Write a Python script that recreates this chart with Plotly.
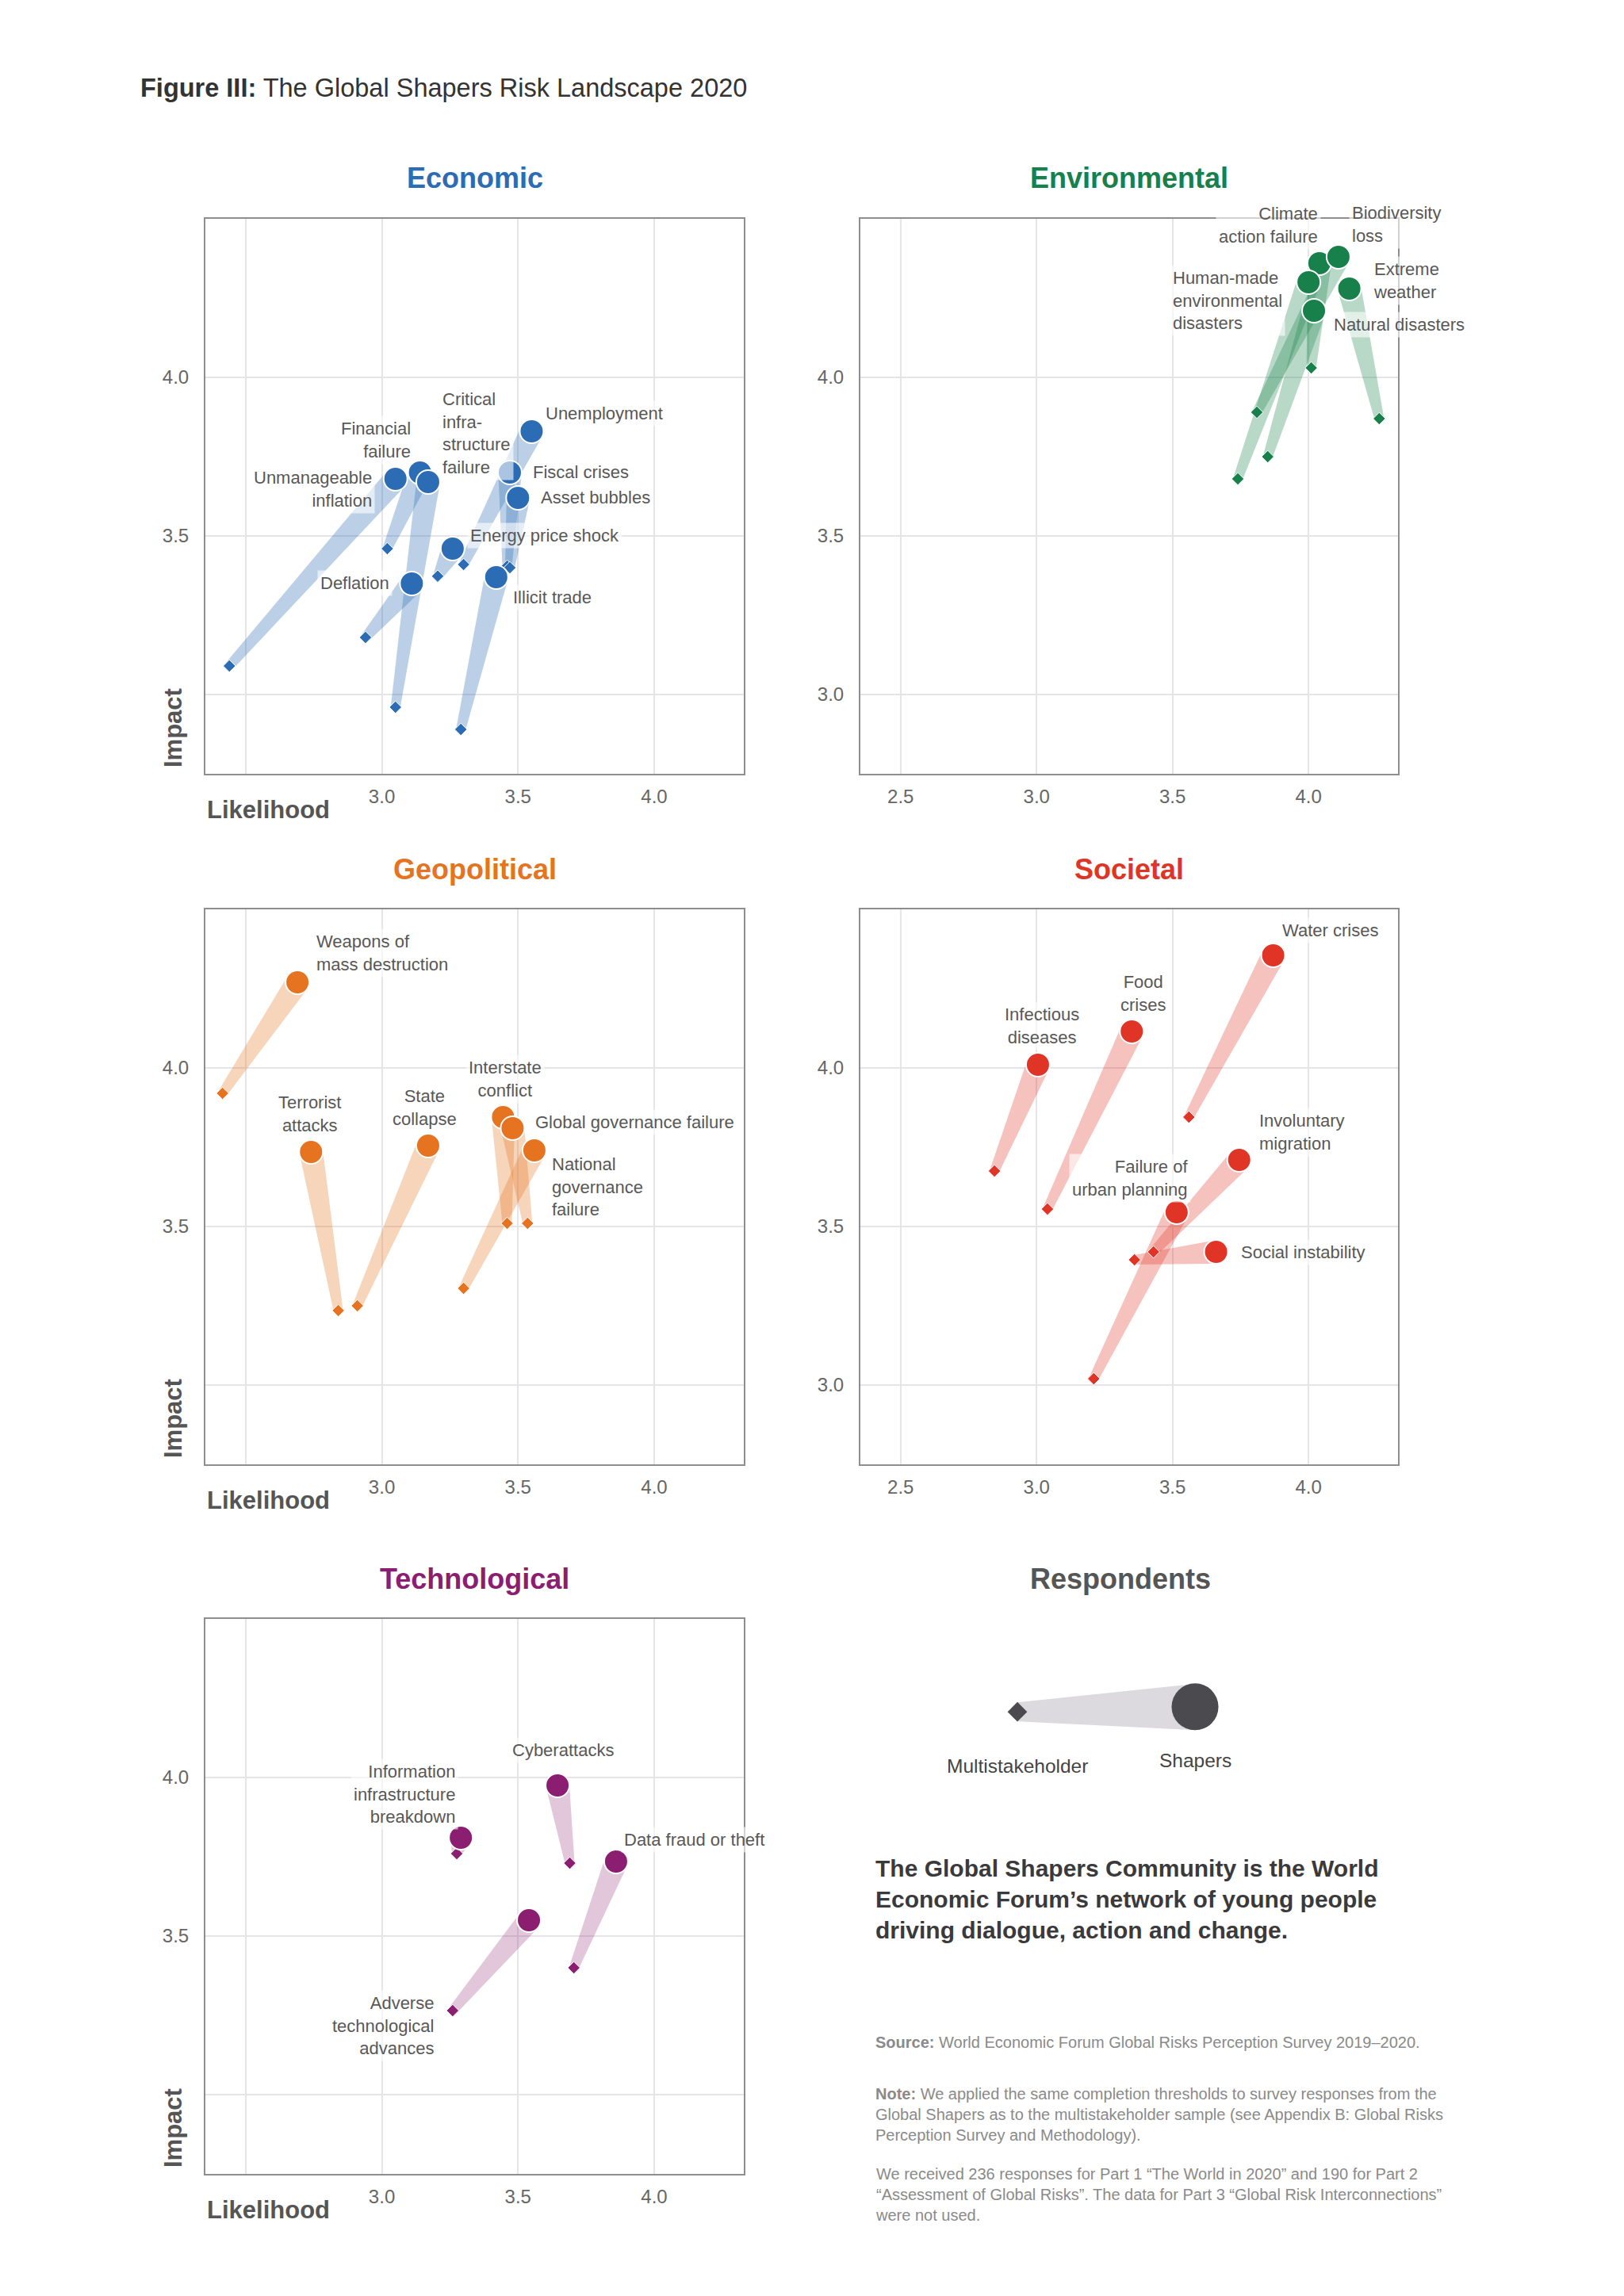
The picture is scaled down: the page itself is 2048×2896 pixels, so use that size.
import math
import plotly.graph_objects as go

# ---------------- DATA (Likelihood = x, Impact = y) ----------------
econ_risks = ["Unmanageable inflation", "Financial failure", "Critical infrastructure failure",
              "Unemployment", "Fiscal crises", "Asset bubbles", "Energy price shock",
              "Deflation", "Illicit trade"]
econ_labels = ["Unmanageable<br>inflation", "Financial<br>failure", "Critical<br>infra-<br>structure<br>failure",
               "Unemployment", "Fiscal crises", "Asset bubbles", "Energy price shock",
               "Deflation", "Illicit trade"]
econ_shapers_likelihood = [3.05, 3.14, 3.17, 3.55, 3.47, 3.50, 3.26, 3.11, 3.42]
econ_shapers_impact = [3.68, 3.70, 3.67, 3.83, 3.70, 3.62, 3.46, 3.35, 3.37]
econ_multi_likelihood = [2.44, 3.02, 3.05, 3.30, 3.46, 3.47, 3.205, 2.94, 3.29]
econ_multi_impact = [3.09, 3.46, 2.96, 3.41, 3.405, 3.40, 3.373, 3.18, 2.89]

env_risks = ["Climate action failure", "Biodiversity loss", "Human-made environmental disasters",
             "Extreme weather", "Natural disasters"]
env_labels = ["Climate<br>action failure", "Biodiversity<br>loss", "Human-made<br>environmental<br>disasters",
              "Extreme<br>weather", "Natural disasters"]
env_shapers_likelihood = [4.04, 4.11, 4.00, 4.15, 4.02]
env_shapers_impact = [4.36, 4.38, 4.30, 4.28, 4.21]
env_multi_likelihood = [4.01, 3.81, 3.74, 4.26, 3.85]
env_multi_impact = [4.03, 3.89, 3.68, 3.87, 3.75]

geo_risks = ["Weapons of mass destruction", "Terrorist attacks", "State collapse",
             "Interstate conflict", "Global governance failure", "National governance failure"]
geo_labels = ["Weapons of<br>mass destruction", "Terrorist<br>attacks", "State<br>collapse",
              "Interstate<br>conflict", "Global governance failure", "National<br>governance<br>failure"]
geo_shapers_likelihood = [2.69, 2.74, 3.17, 3.445, 3.48, 3.56]
geo_shapers_impact = [4.27, 3.735, 3.755, 3.845, 3.81, 3.74]
geo_multi_likelihood = [2.415, 2.84, 2.91, 3.46, 3.535, 3.30]
geo_multi_impact = [3.92, 3.235, 3.25, 3.51, 3.51, 3.305]

soc_risks = ["Water crises", "Food crises", "Infectious diseases", "Involuntary migration",
             "Failure of urban planning", "Social instability"]
soc_labels = ["Water crises", "Food<br>crises", "Infectious<br>diseases", "Involuntary<br>migration",
              "Failure of<br>urban planning", "Social instability"]
soc_shapers_likelihood = [3.87, 3.35, 3.005, 3.745, 3.515, 3.66]
soc_shapers_impact = [4.355, 4.115, 4.01, 3.71, 3.545, 3.42]
soc_multi_likelihood = [3.56, 3.04, 2.845, 3.43, 3.21, 3.36]
soc_multi_impact = [3.845, 3.555, 3.675, 3.42, 3.02, 3.395]

tech_risks = ["Cyberattacks", "Information infrastructure breakdown", "Data fraud or theft",
              "Adverse technological advances"]
tech_labels = ["Cyberattacks", "Information<br>infrastructure<br>breakdown", "Data fraud or theft",
               "Adverse<br>technological<br>advances"]
tech_shapers_likelihood = [3.645, 3.29, 3.86, 3.54]
tech_shapers_impact = [3.975, 3.81, 3.735, 3.55]
tech_multi_likelihood = [3.69, 3.275, 3.705, 3.26]
tech_multi_impact = [3.73, 3.76, 3.40, 3.265]

x_tick_values = [2.5, 3.0, 3.5, 4.0]
y_tick_values = [3.0, 3.5, 4.0]

legend_names = ["Multistakeholder", "Shapers"]
legend_x = [0.0, 1.0]
legend_y = [-0.07, 0.07]

# ---------------- STYLE / LAYOUT ----------------
W, H = 2048, 2896
XR = [2.352, 4.329]
YR = [2.75, 4.50]
COLS = [(259, 938), (1085, 1763)]
ROWS = [(276, 976), (1147, 1847), (2042, 2742)]
FONT = "Liberation Sans, Arial, Helvetica, sans-serif"
GRID = "#E4E4E9"
FRAME = "#8D8D92"
TICK = "#666666"
LABEL = "#585858"
CIRCLE_SIZE = 30
DIAMOND_SIZE = 12
BAND_W0 = 12

# label placement: (xanchor, xshift, yshift, align, reference)  reference 's' shapers / 'm' multistakeholder
econ_pos = [("right", -26, -13, "right", "s"), ("right", -8, 41, "right", "s"), ("left", 14, 61, "left", "s"),
            ("left", 14, 22, "left", "s"), ("left", 25, 0, "left", "s"), ("left", 25, 0, "left", "s"),
            ("left", 18, 16, "left", "s"), ("right", -24, 0, "right", "s"), ("left", 17, -26, "left", "s")]
env_pos = [("right", 2, 48, "right", "s"), ("left", 13, 41, "left", "s"), ("right", -29, -23, "left", "s"),
           ("left", 26, 10, "left", "s"), ("left", 21, -18, "left", "s")]
geo_pos = [("left", 20, 37, "left", "s"), ("center", -2, 48, "center", "s"), ("center", -4, 48, "center", "s"),
           ("center", 3, 48, "center", "s"), ("left", 25, 8, "left", "s"), ("left", 18, -46, "left", "s")]
soc_pos = [("left", 7, 32, "left", "s"), ("center", 14, 48, "center", "s"), ("center", 5, 49, "center", "s"),
           ("left", 21, 35, "left", "s"), ("right", 18, 43, "right", "s"), ("left", 27, 0, "left", "s")]
tech_pos = [("center", 7, 45, "center", "s"), ("right", -3, 55, "right", "s"), ("left", 6, 28, "left", "s"),
            ("right", -20, -19, "right", "m")]

panels = [
    dict(title="Economic", color="#2C6CB4", band="rgba(44,108,180,0.32)", col=0, row=0,
         labels=econ_labels, names=econ_risks, sx=econ_shapers_likelihood, sy=econ_shapers_impact,
         mx=econ_multi_likelihood, my=econ_multi_impact, pos=econ_pos),
    dict(title="Environmental", color="#18804A", band="rgba(24,128,74,0.30)", col=1, row=0,
         labels=env_labels, names=env_risks, sx=env_shapers_likelihood, sy=env_shapers_impact,
         mx=env_multi_likelihood, my=env_multi_impact, pos=env_pos),
    dict(title="Geopolitical", color="#E5731F", band="rgba(229,115,31,0.30)", col=0, row=1,
         labels=geo_labels, names=geo_risks, sx=geo_shapers_likelihood, sy=geo_shapers_impact,
         mx=geo_multi_likelihood, my=geo_multi_impact, pos=geo_pos),
    dict(title="Societal", color="#E03427", band="rgba(224,52,39,0.30)", col=1, row=1,
         labels=soc_labels, names=soc_risks, sx=soc_shapers_likelihood, sy=soc_shapers_impact,
         mx=soc_multi_likelihood, my=soc_multi_impact, pos=soc_pos),
    dict(title="Technological", color="#8B1E70", band="rgba(139,30,112,0.25)", col=0, row=2,
         labels=tech_labels, names=tech_risks, sx=tech_shapers_likelihood, sy=tech_shapers_impact,
         mx=tech_multi_likelihood, my=tech_multi_impact, pos=tech_pos),
]


def dom_x(a, b):
    return [a / W, b / W]


def dom_y(top, bottom):
    return [1 - bottom / H, 1 - top / H]


def band(x0, y0, x1, y1, w0, r1, sx, sy):
    X0, Y0, X1, Y1 = x0 * sx, y0 * sy, x1 * sx, y1 * sy
    dx, dy = X1 - X0, Y1 - Y0
    L = math.hypot(dx, dy) or 1.0
    ux, uy = dx / L, dy / L
    nx, ny = -uy, ux
    pts = [(X0 + nx * w0 / 2, Y0 + ny * w0 / 2)]
    for k in range(21):
        a = math.pi / 2 - math.pi * k / 20
        pts.append((X1 + r1 * (math.cos(a) * ux + math.sin(a) * nx),
                    Y1 + r1 * (math.cos(a) * uy + math.sin(a) * ny)))
    pts.append((X0 - nx * w0 / 2, Y0 - ny * w0 / 2))
    pts.append(pts[0])
    return [p[0] / sx for p in pts], [p[1] / sy for p in pts]


fig = go.Figure()
annotations = []
layout_axes = {}

for i, p in enumerate(panels, start=1):
    xa_name = "xaxis" if i == 1 else f"xaxis{i}"
    ya_name = "yaxis" if i == 1 else f"yaxis{i}"
    xref = "x" if i == 1 else f"x{i}"
    yref = "y" if i == 1 else f"y{i}"
    c0, c1 = COLS[p["col"]]
    r0, r1 = ROWS[p["row"]]
    left_col = p["col"] == 0
    xt = ["" if (left_col and v == 2.5) else f"{v:.1f}" for v in x_tick_values]
    yt = ["" if (left_col and v == 3.0) else f"{v:.1f}" for v in y_tick_values]
    layout_axes[xa_name] = dict(domain=dom_x(c0, c1), range=XR, anchor=yref,
                                tickvals=x_tick_values, ticktext=xt, showgrid=True, gridcolor=GRID,
                                gridwidth=1.5, zeroline=False, showline=True, linecolor=FRAME,
                                linewidth=2, mirror=True, ticks="", ticklabelstandoff=6,
                                tickfont=dict(size=24, color=TICK, family=FONT), fixedrange=True)
    layout_axes[ya_name] = dict(domain=dom_y(r0, r1), range=YR, anchor=xref,
                                tickvals=y_tick_values, ticktext=yt, showgrid=True, gridcolor=GRID,
                                gridwidth=1.5, zeroline=False, showline=True, linecolor=FRAME,
                                linewidth=2, mirror=True, ticks="", ticklabelstandoff=14,
                                tickfont=dict(size=24, color=TICK, family=FONT), fixedrange=True)

    px_x = (c1 - c0) / (XR[1] - XR[0])
    px_y = (r1 - r0) / (YR[1] - YR[0])

    for k in range(len(p["names"])):
        bx, by = band(p["mx"][k], p["my"][k], p["sx"][k], p["sy"][k], BAND_W0, CIRCLE_SIZE / 2, px_x, px_y)
        fig.add_trace(go.Scatter(x=bx, y=by, mode="lines", fill="toself", fillcolor=p["band"],
                                 line=dict(width=0), hoverinfo="skip", xaxis=xref, yaxis=yref,
                                 showlegend=False))
    fig.add_trace(go.Scatter(x=p["mx"], y=p["my"], mode="markers", text=p["names"],
                             marker=dict(symbol="diamond", size=DIAMOND_SIZE, color=p["color"],
                                         line=dict(color="white", width=1)),
                             xaxis=xref, yaxis=yref, showlegend=False, name="Multistakeholder"))
    fig.add_trace(go.Scatter(x=p["sx"], y=p["sy"], mode="markers", text=p["names"],
                             marker=dict(symbol="circle", size=CIRCLE_SIZE, color=p["color"],
                                         line=dict(color="white", width=2)),
                             xaxis=xref, yaxis=yref, showlegend=False, name="Shapers"))

    for k, lab in enumerate(p["labels"]):
        xa, dx, dy, al, ref = p["pos"][k]
        ax_ = p["sx"][k] if ref == "s" else p["mx"][k]
        ay_ = p["sy"][k] if ref == "s" else p["my"][k]
        annotations.append(dict(x=ax_, y=ay_, xref=xref, yref=yref, text=lab, showarrow=False,
                                xanchor=xa, yanchor="middle", xshift=dx, yshift=dy, align=al,
                                bgcolor="rgba(255,255,255,0.6)", borderpad=3,
                                font=dict(size=22, color=LABEL, family=FONT)))

    # panel title
    annotations.append(dict(x=(c0 + c1) / 2 / W, y=1 - (r0 - 51) / H, xref="paper", yref="paper",
                            text=f"<b>{p['title']}</b>", showarrow=False, xanchor="center",
                            yanchor="middle", font=dict(size=36, color=p["color"], family=FONT)))
    if left_col:
        annotations.append(dict(x=c0 / W, y=1 - (r1 + 45) / H, xref="paper", yref="paper",
                                text="<b>Likelihood</b>", showarrow=False, xanchor="left",
                                yanchor="middle", font=dict(size=31, color="#555555", family=FONT)))
        annotations.append(dict(x=218 / W, y=1 - (r1 - 58) / H, xref="paper", yref="paper",
                                text="<b>Impact</b>", showarrow=False, xanchor="center",
                                yanchor="middle", textangle=-90,
                                font=dict(size=31, color="#555555", family=FONT)))

# ---------------- Respondents key ----------------
LX0, LX1 = 1230, 1560
LY0, LY1 = 2111, 2201
lx_range = [(LX0 - 1283) / 224, (LX1 - 1283) / 224]
ly_range = [-1.0, 1.0]
layout_axes["xaxis6"] = dict(domain=dom_x(LX0, LX1), range=lx_range, anchor="y6", visible=False,
                             fixedrange=True)
layout_axes["yaxis6"] = dict(domain=dom_y(LY0, LY1), range=ly_range, anchor="x6", visible=False,
                             fixedrange=True)
lpx = (LX1 - LX0) / (lx_range[1] - lx_range[0])
lpy = (LY1 - LY0) / (ly_range[1] - ly_range[0])
bx, by = band(legend_x[0], legend_y[0], legend_x[1], legend_y[1], 24, 29.5, lpx, lpy)
fig.add_trace(go.Scatter(x=bx, y=by, mode="lines", fill="toself", fillcolor="#DCDADE",
                         line=dict(width=0), hoverinfo="skip", xaxis="x6", yaxis="y6", showlegend=False))
fig.add_trace(go.Scatter(x=[legend_x[0]], y=[legend_y[0]], mode="markers",
                         marker=dict(symbol="diamond", size=19, color="#4B4A4E"),
                         xaxis="x6", yaxis="y6", showlegend=False))
fig.add_trace(go.Scatter(x=[legend_x[1]], y=[legend_y[1]], mode="markers",
                         marker=dict(symbol="circle", size=59, color="#4B4A4E"),
                         xaxis="x6", yaxis="y6", showlegend=False))
for name, lxv, lyv in zip(legend_names, legend_x, legend_y):
    annotations.append(dict(x=lxv, y=lyv, xref="x6", yref="y6", text=name, showarrow=False,
                            xanchor="center", yanchor="middle", yshift=-68,
                            font=dict(size=24.5, color="#444444", family=FONT)))

annotations.append(dict(x=1413 / W, y=1 - 1991 / H, xref="paper", yref="paper",
                        text="<b>Respondents</b>", showarrow=False, xanchor="center", yanchor="middle",
                        font=dict(size=36, color="#555555", family=FONT)))

# ---------------- Texts ----------------
annotations.append(dict(x=175 / W, y=1 - 111 / H, xref="paper", yref="paper",
                        text="<b>Figure III:</b> The Global Shapers Risk Landscape 2020",
                        showarrow=False, xanchor="left", yanchor="middle",
                        font=dict(size=32.5, color="#333333", family=FONT)))
annotations.append(dict(x=1102 / W, y=1 - 2395 / H, xref="paper", yref="paper",
                        text="<b>The Global Shapers Community is the World<br>Economic Forum’s network of young people<br>driving dialogue, action and change.</b>",
                        showarrow=False, xanchor="left", yanchor="middle", align="left",
                        font=dict(size=30, color="#3A3A3C", family=FONT)))
annotations.append(dict(x=1102 / W, y=1 - 2576 / H, xref="paper", yref="paper",
                        text="<b>Source:</b> World Economic Forum Global Risks Perception Survey 2019–2020.",
                        showarrow=False, xanchor="left", yanchor="middle", align="left",
                        font=dict(size=20, color="#8A8A8A", family=FONT)))
annotations.append(dict(x=1102 / W, y=1 - 2667 / H, xref="paper", yref="paper",
                        text="<b>Note:</b> We applied the same completion thresholds to survey responses from the<br>Global Shapers as to the multistakeholder sample (see Appendix B: Global Risks<br>Perception Survey and Methodology).",
                        showarrow=False, xanchor="left", yanchor="middle", align="left",
                        font=dict(size=20, color="#8A8A8A", family=FONT)))
annotations.append(dict(x=1102 / W, y=1 - 2768 / H, xref="paper", yref="paper",
                        text="We received 236 responses for Part 1 “The World in 2020” and 190 for Part 2<br>“Assessment of Global Risks”. The data for Part 3 “Global Risk Interconnections”<br>were not used.",
                        showarrow=False, xanchor="left", yanchor="middle", align="left",
                        font=dict(size=20, color="#8A8A8A", family=FONT)))

fig.update_layout(width=W, height=H, margin=dict(l=0, r=0, t=0, b=0), autosize=False,
                  paper_bgcolor="white", plot_bgcolor="white", showlegend=False,
                  font=dict(family=FONT), annotations=annotations, hovermode="closest",
                  **layout_axes)

fig.write_html("out.html", post_script="document.body.style.margin='0';",
               config={"displayModeBar": False, "responsive": False})
